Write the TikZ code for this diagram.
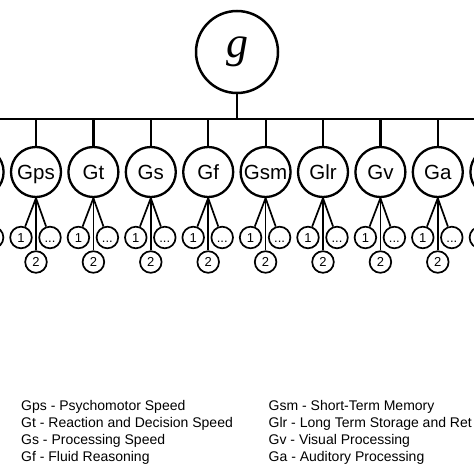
\documentclass[tikz,border=0pt]{standalone}
\usepackage{fontspec}
\setmainfont{Liberation Sans}
\newfontfamily\gfont{Liberation Serif}
\begin{document}
\begin{tikzpicture}[x=1pt,y=-1pt,
  top/.style={circle, draw, line width=2.5pt, minimum size=82pt, inner sep=0pt,
    font=\gfont\itshape\fontsize{44}{50}\selectfont},
  factor/.style={circle, draw, line width=2.3pt, minimum size=50pt, inner sep=0pt,
    font=\fontsize{20.5}{24}\selectfont, text height=14.6pt, text depth=0pt},
  task/.style={circle, draw, line width=1.7pt, minimum size=21.6pt, inner sep=0pt,
    font=\fontsize{13}{15}\selectfont, text height=9.3pt, text depth=0pt},
  link/.style={line width=1.7pt},
  bar/.style={line width=2.2pt},
  legend/.style={anchor=base west, inner sep=0pt, font=\fontsize{14}{17}\selectfont}]
\useasboundingbox (0,0) rectangle (474,474);
\clip (0,0) rectangle (474,474);

\node[top] (g) at (237,52) {g};
\coordinate (barL) at (-40,119);
\coordinate (barR) at (520,119);
\coordinate (barM) at (237,119);
\draw[bar] (barL) -- (barR);
\draw[bar] (g.south) -- (barM);

\foreach \k/\lab in {1/Gps,2/Gt,3/Gs,4/Gf,5/Gsm,6/Glr,7/Gv,8/Ga}{
  \pgfmathsetmacro{\cx}{-21.4+57.4*\k}
  \node[factor] (f\k) at (\cx,172) {\lab};
  \node[task] (one\k) at (\cx-15,237.5) {1};
  \node[task] (dots\k) at (\cx+14,237.5) {...};
  \node[task] (two\k) at (\cx,262) {2};
  \draw[bar] (f\k.north) -- (f\k.north |- barM);
  \draw[link] (f\k.south) -- (one\k);
  \draw[link] (f\k.south) -- (dots\k);
  \draw[link] (f\k.south) -- (two\k);
}
% partial groups at the cut edges
\node[factor] (f0) at (-21.4,172) {};
\node[task] (dots0) at (-7.4,237.5) {};
\draw[bar] (f0.north) -- (f0.north |- barM);
\draw[link] (f0.south) -- (dots0);
\node[factor] (f9) at (495.4,172) {};
\node[task] (one9) at (480.4,237.5) {};
\draw[bar] (f9.north) -- (f9.north |- barM);
\draw[link] (f9.south) -- (one9);

\node[legend] (l1) at (21,410.7) {Gps - Psychomotor Speed};
\node[legend] (l2) at (21,427.7) {Gt - Reaction and Decision Speed};
\node[legend] (l3) at (21,444.7) {Gs - Processing Speed};
\node[legend] (l4) at (21,461.7) {Gf - Fluid Reasoning};
\node[legend] (r1) at (268.5,410.7) {Gsm - Short-Term Memory};
\node[legend] (r2) at (268.5,427.7) {Glr - Long Term Storage and Ret};
\node[legend] (r3) at (268.5,444.7) {Gv - Visual Processing};
\node[legend] (r4) at (268.5,461.7) {Ga - Auditory Processing};
\end{tikzpicture}
\end{document}
